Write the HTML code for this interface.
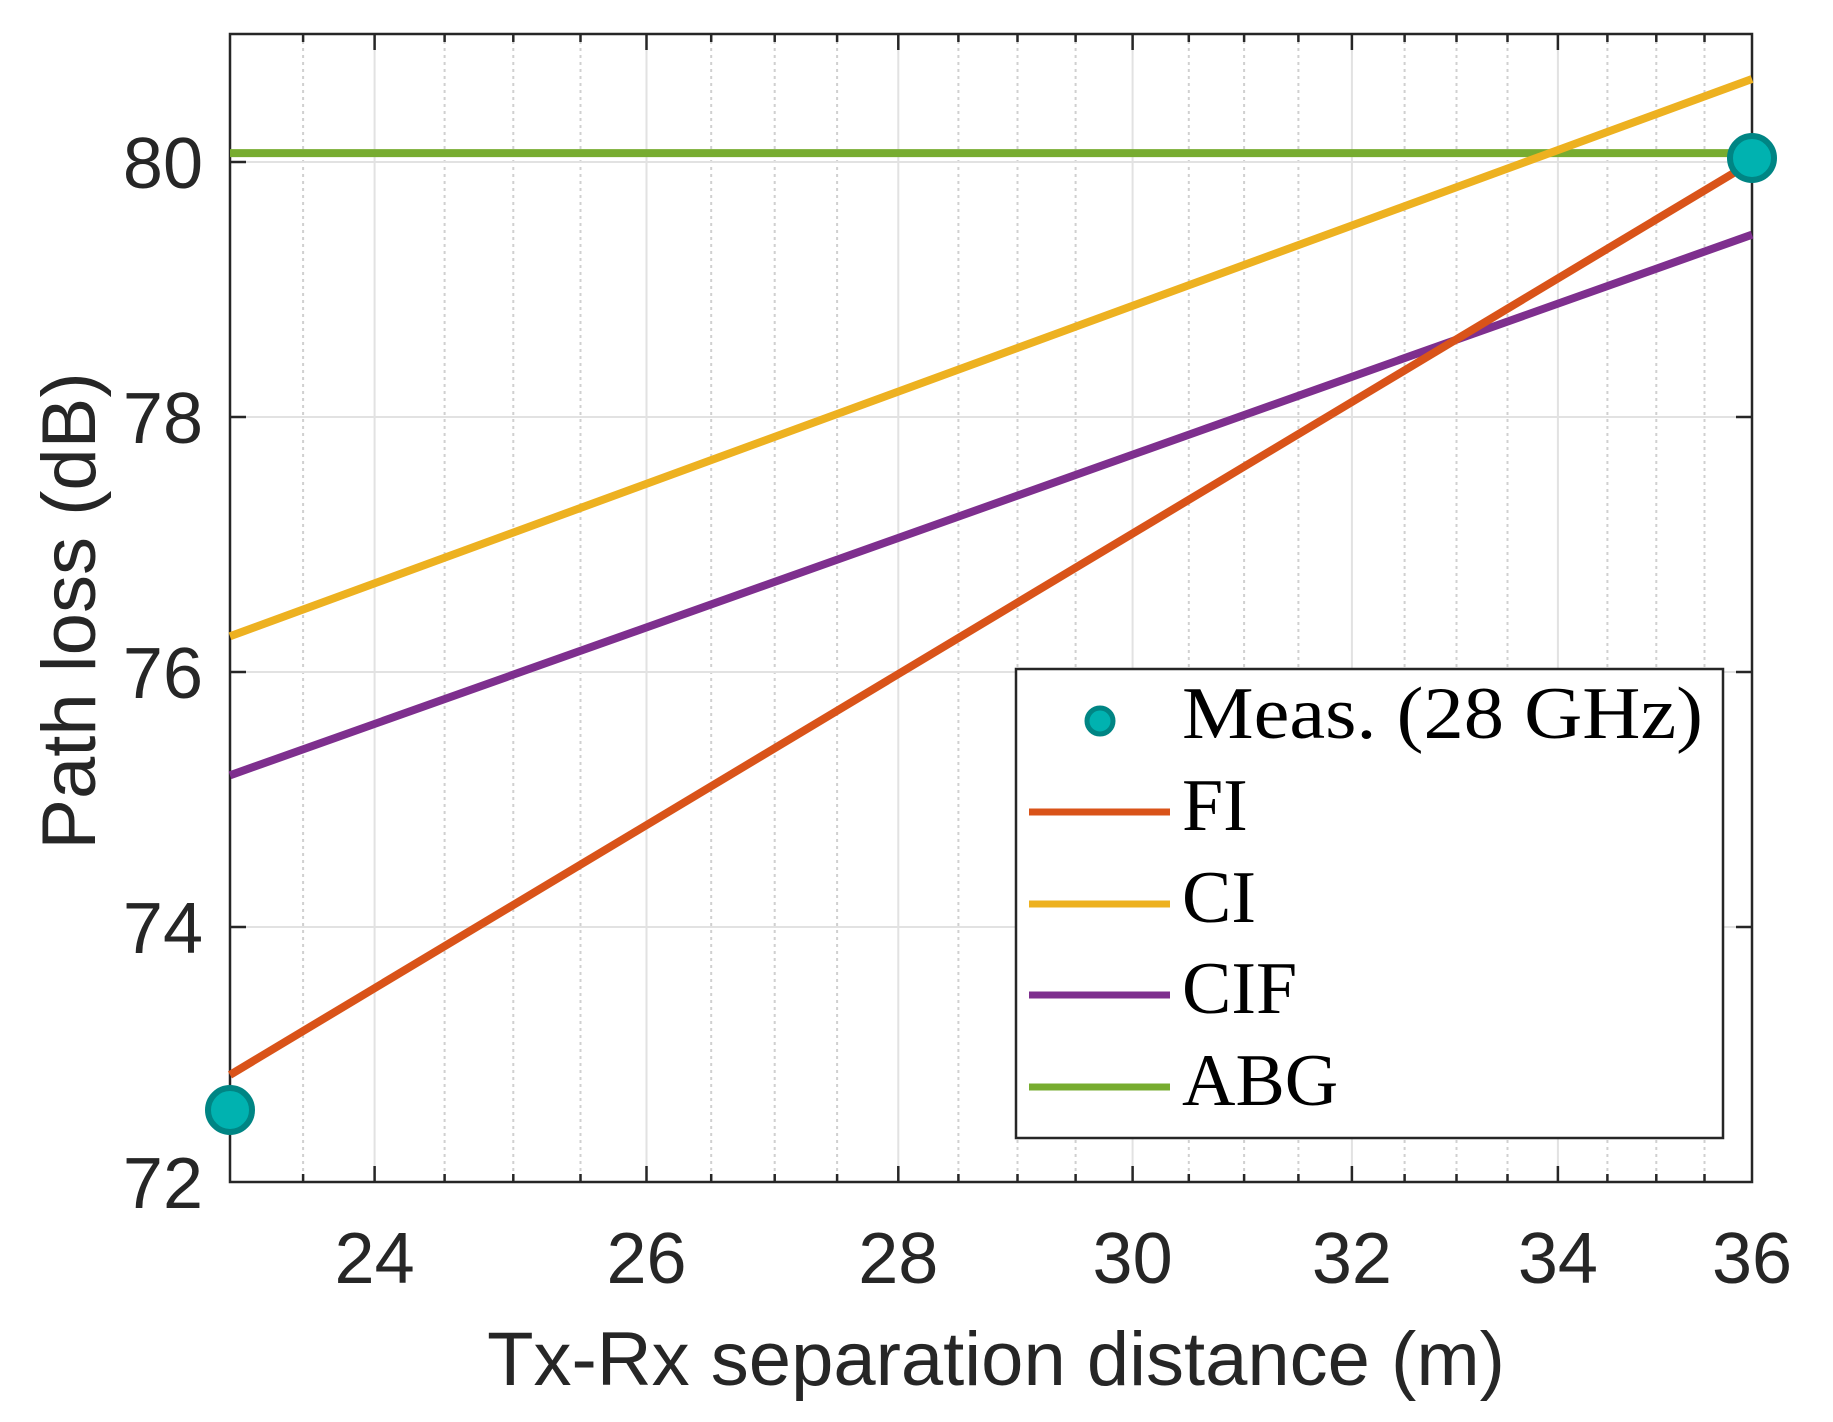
<!DOCTYPE html>
<html><head><meta charset="utf-8"><style>html,body{margin:0;padding:0;background:#fff}svg{display:block}</style></head>
<body>
<svg width="1833" height="1422" viewBox="0 0 1833 1422" xmlns="http://www.w3.org/2000/svg">
<rect width="1833" height="1422" fill="#fff"/>
<g stroke="#d0d0d0" stroke-width="2" stroke-dasharray="3,4">
<path d="M303.1 34V1182M444.6 34V1182M513.3 34V1182M580.5 34V1182M711.2 34V1182M774.7 34V1182M837.1 34V1182M958.4 34V1182M1017.5 34V1182M1075.6 34V1182M1188.8 34V1182M1244.1 34V1182M1298.4 34V1182M1404.6 34V1182M1456.5 34V1182M1507.5 34V1182M1607.4 34V1182M1656.3 34V1182M1704.5 34V1182"/>
</g>
<g stroke="#e2e2e2" stroke-width="2">
<path d="M374.6 34V1182M646.5 34V1182M898.3 34V1182M1132.6 34V1182M1351.9 34V1182M1557.9 34V1182"/>
<path d="M230 927H1752M230 672H1752M230 417H1752M230 162H1752"/>
</g>
<g stroke="#262626" stroke-width="2.5">
<path d="M303.1 1182v-8M444.6 1182v-8M513.3 1182v-8M580.5 1182v-8M711.2 1182v-8M774.7 1182v-8M837.1 1182v-8M958.4 1182v-8M1017.5 1182v-8M1075.6 1182v-8M1188.8 1182v-8M1244.1 1182v-8M1298.4 1182v-8M1404.6 1182v-8M1456.5 1182v-8M1507.5 1182v-8M1607.4 1182v-8M1656.3 1182v-8M1704.5 1182v-8"/>
<path d="M303.1 34v8M444.6 34v8M513.3 34v8M580.5 34v8M711.2 34v8M774.7 34v8M837.1 34v8M958.4 34v8M1017.5 34v8M1075.6 34v8M1188.8 34v8M1244.1 34v8M1298.4 34v8M1404.6 34v8M1456.5 34v8M1507.5 34v8M1607.4 34v8M1656.3 34v8M1704.5 34v8"/>
<path d="M374.6 1182v-16M646.5 1182v-16M898.3 1182v-16M1132.6 1182v-16M1351.9 1182v-16M1557.9 1182v-16"/>
<path d="M374.6 34v16M646.5 34v16M898.3 34v16M1132.6 34v16M1351.9 34v16M1557.9 34v16"/>
<path d="M230 927h16M230 672h16M230 417h16M230 162h16M1752 927h-16M1752 672h-16M1752 417h-16M1752 162h-16"/>
<rect x="230" y="34" width="1522" height="1148" fill="none"/>
</g>
<g stroke-width="8" fill="none">
<line x1="230" y1="153.1" x2="1752" y2="153.1" stroke="#77ac30"/>
<line x1="230" y1="636.3" x2="1752" y2="79" stroke="#edb120"/>
<line x1="230" y1="775.3" x2="1752" y2="234.7" stroke="#7e2f8e"/>
<line x1="230" y1="1074.9" x2="1752" y2="162" stroke="#d95319"/>
</g>
<g fill="#00b2b0" stroke="#008584" stroke-width="6">
<circle cx="230" cy="1110" r="22"/>
<circle cx="1752" cy="158" r="22"/>
</g>
<g font-family="Liberation Sans, sans-serif" font-size="72" fill="#262626">
<g text-anchor="end">
<text x="203" y="1208">72</text>
<text x="203" y="953">74</text>
<text x="203" y="698">76</text>
<text x="203" y="443">78</text>
<text x="203" y="188">80</text>
</g>
<g text-anchor="middle">
<text x="374.6" y="1283">24</text>
<text x="646.5" y="1283">26</text>
<text x="898.3" y="1283">28</text>
<text x="1132.6" y="1283">30</text>
<text x="1351.9" y="1283">32</text>
<text x="1557.9" y="1283">34</text>
<text x="1752" y="1283">36</text>
<text x="996" y="1385" font-size="76">Tx-Rx separation distance (m)</text>
<text transform="translate(95,611) rotate(-90)" font-size="76">Path loss (dB)</text>
</g>
</g>
<rect x="1016" y="669" width="707" height="469" fill="#fff" stroke="#262626" stroke-width="2.5"/>
<circle cx="1100" cy="721" r="13" fill="#00b2b0" stroke="#008584" stroke-width="5"/>
<g stroke-width="7">
<line x1="1029" y1="812" x2="1170" y2="812" stroke="#d95319"/>
<line x1="1029" y1="904" x2="1170" y2="904" stroke="#edb120"/>
<line x1="1029" y1="995" x2="1170" y2="995" stroke="#7e2f8e"/>
<line x1="1029" y1="1087" x2="1170" y2="1087" stroke="#77ac30"/>
</g>
<g font-family="Liberation Serif, serif" font-size="74" fill="#000">
<text x="1182" y="738" textLength="521" lengthAdjust="spacingAndGlyphs">Meas.  (28 GHz)</text>
<text x="1182" y="830">FI</text>
<text x="1182" y="922">CI</text>
<text x="1182" y="1013">CIF</text>
<text x="1182" y="1105">ABG</text>
</g>
</svg>
</body></html>
